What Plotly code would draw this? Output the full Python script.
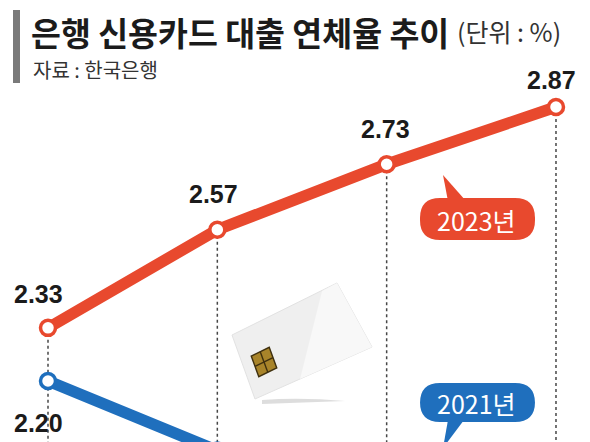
"""
    bank credit card loan delinquency rate chart
"""
##########==========##########==========##########==========##########==========
## header

import numpy as np
import plotly.graph_objects as go

## data
months = [1, 2, 3, 4]
rate_2023 = [2.33, 2.57, 2.73, 2.87]
rate_2021 = [2.20, 2.03, 1.98, 1.97]
label_2023 = ['2.33', '2.57', '2.73', '2.87']
label_2021 = ['2.20']
series_names = ['2023년', '2021년']

title_text = '은행 신용카드 대출 연체율 추이'
unit_text = '(단위 : %)'
source_text = '자료 : 한국은행'

## parameters
params = dict(
    width = 590,
    height = 442,
    offset = 8,          # page body margin
    red = '#e8492e',
    blue = '#1f6fbd',
    grid = '#474747',
    text = '#1b1b1b',
    x_range = [0.7638, 4.2481],
    y_range = [2.0314, 3.1121],
    kr_font = 'Noto Sans CJK KR',
    num_font = 'Liberation Sans',
)
## label offsets in pixels (x, y)
params['shift_2023'] = [(-10, 34), (-4, 36), (-1, 35), (-4, 27)]
params['shift_2021'] = [(-10, -42)]


##########==========##########==========##########==========##########==========
## helpers


def px(x, y):
    """ page pixel position -> paper position """
    o = params['offset']
    return (x - o) / params['width'], 1 - (y - o) / params['height']


def make_path(points, closed = True):
    """ list of ('M'|'L'|'Q', [(x, y), ...]) in pixels -> svg path in paper units """
    parts = []
    for cmd, pts in points:
        coords = ' '.join('%.5f,%.5f' % px(*p) for p in pts)
        parts.append(cmd + ' ' + coords)
    return ' '.join(parts) + (' Z' if closed else '')


def pill(x0, y0, x1, y1, r):
    return make_path([
        ('M', [(x0 + r, y0)]), ('L', [(x1 - r, y0)]),
        ('Q', [(x1, y0), (x1, y0 + r)]), ('L', [(x1, y1 - r)]),
        ('Q', [(x1, y1), (x1 - r, y1)]), ('L', [(x0 + r, y1)]),
        ('Q', [(x0, y1), (x0, y1 - r)]), ('L', [(x0, y0 + r)]),
        ('Q', [(x0, y0), (x0 + r, y0)]),
    ])


def polygon(pts):
    return make_path([('M', [pts[0]])] + [('L', [p]) for p in pts[1:]])


def text_note(x, y, text, size, color, anchor = 'left', family = None):
    tx, ty = px(x, y)
    return dict(xref = 'paper', yref = 'paper', x = tx, y = ty, text = text,
        xanchor = anchor, yanchor = 'middle', showarrow = False,
        font = dict(family = family or params['kr_font'], size = size, color = color))


##########==========##########==========##########==========##########==========
## figure


fig = go.Figure()

## dashed drop lines from the 2023 points
for m, v in zip(months, rate_2023):
    fig.add_trace(go.Scatter(
        x = [m, m], y = [v, params['y_range'][0] - 0.2], mode = 'lines',
        line = dict(color = params['grid'], width = 1.5, dash = '3px,3px'),
        hoverinfo = 'skip'))

for vals, color in [(rate_2021, params['blue']), (rate_2023, params['red'])]:
    fig.add_trace(go.Scatter(
        x = months, y = vals, mode = 'lines+markers',
        line = dict(color = color, width = 11.5),
        marker = dict(size = 15, color = 'white', line = dict(color = color, width = 3.5)),
        cliponaxis = True))

## value labels
annotations = []
for m, v, lab, (dx, dy) in zip(months, rate_2023, label_2023, params['shift_2023']):
    annotations.append(dict(x = m, y = v, text = lab, showarrow = False, xshift = dx, yshift = dy,
        font = dict(family = params['num_font'], size = 25, color = params['text'], weight = 'bold')))
for m, v, lab, (dx, dy) in zip(months, rate_2021, label_2021, params['shift_2021']):
    annotations.append(dict(x = m, y = v, text = lab, showarrow = False, xshift = dx, yshift = dy,
        font = dict(family = params['num_font'], size = 25, color = params['text'], weight = 'bold')))

## title block
annotations.append(text_note(29, 31, '<b>' + title_text + '</b>', 32.5, params['text']))
annotations.append(text_note(455, 31, unit_text, 25, '#333333'))
annotations.append(text_note(31, 70, source_text, 20, '#333333'))

## bubble labels
annotations.append(text_note(476, 220, series_names[0], 25, 'white', anchor = 'center'))
annotations.append(text_note(476, 403, series_names[1], 25, 'white', anchor = 'center'))

shapes = []
x0, y0 = px(13, 10)
x1, y1 = px(20, 83)
shapes.append(dict(type = 'rect', xref = 'paper', yref = 'paper', x0 = x0, y0 = y0, x1 = x1, y1 = y1,
    fillcolor = '#7a7a7a', line = dict(width = 0)))

## speech bubbles
bubble = [
    (params['red'], (420, 198, 535, 240), [(448, 201), (466, 201), (443, 175)]),
    (params['blue'], (420, 383, 535, 422), [(448, 420), (464, 420), (443, 448)]),
]
for color, box, tail in bubble:
    shapes.append(dict(type = 'path', xref = 'paper', yref = 'paper', path = polygon(tail),
        fillcolor = color, line = dict(width = 0)))
    shapes.append(dict(type = 'path', xref = 'paper', yref = 'paper', path = pill(*box, 20),
        fillcolor = color, line = dict(width = 0)))

## credit card decoration
card = [(232, 335), (337, 283), (372, 347), (255, 399)]
shapes.append(dict(type = 'path', xref = 'paper', yref = 'paper',
    path = make_path([('M', [(262, 400)]), ('Q', [(300, 397), (345, 401)]), ('L', [(262, 404)])]),
    fillcolor = '#cfcfcf', opacity = 0.7, line = dict(width = 0)))
shapes.append(dict(type = 'path', xref = 'paper', yref = 'paper', path = polygon(card),
    fillcolor = '#efefef', line = dict(color = '#e2e2e2', width = 1)))
shapes.append(dict(type = 'path', xref = 'paper', yref = 'paper',
    path = polygon([(322, 291), (337, 283), (372, 347), (300, 379)]),
    fillcolor = '#f8f8f8', line = dict(width = 0)))
c = np.array([264.0, 362.0])
u = np.array([0.899, -0.438])
v = np.array([0.343, 0.939])
chip = [tuple(c + a * 10 * u + b * 11 * v) for a, b in [(-1, -1), (1, -1), (1, 1), (-1, 1)]]
shapes.append(dict(type = 'path', xref = 'paper', yref = 'paper', path = polygon(chip),
    fillcolor = '#a8842a', line = dict(color = '#3f300f', width = 1.4)))
for a0, b0, a1, b1 in [(0, -1, 0, 1), (-1, 0, 1, 0)]:
    p0 = c + a0 * 10 * u + b0 * 11 * v
    p1 = c + a1 * 10 * u + b1 * 11 * v
    shapes.append(dict(type = 'path', xref = 'paper', yref = 'paper',
        path = make_path([('M', [tuple(p0)]), ('L', [tuple(p1)])], closed = False),
        line = dict(color = '#3f300f', width = 1.4)))

fig.update_layout(
    width = params['width'], height = params['height'],
    margin = dict(l = 0, r = 0, t = 0, b = 0),
    paper_bgcolor = 'white', plot_bgcolor = 'white',
    showlegend = False,
    xaxis = dict(range = params['x_range'], visible = False, fixedrange = True),
    yaxis = dict(range = params['y_range'], visible = False, fixedrange = True),
    annotations = annotations,
    shapes = shapes,
)

fig.write_html('out.html')
